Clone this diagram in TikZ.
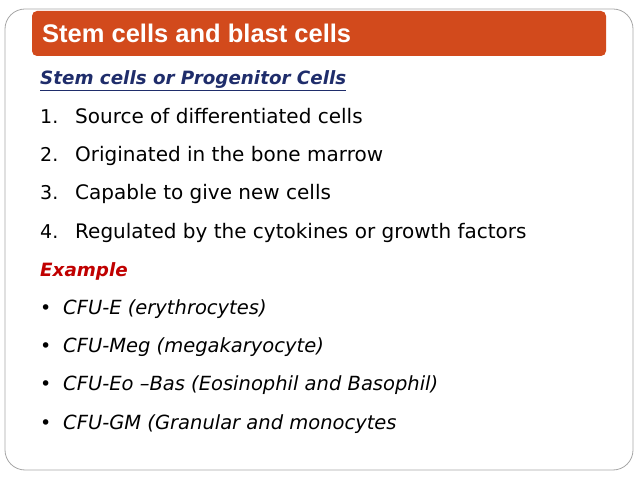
\documentclass[tikz,border=0pt]{standalone}
\usepackage{fontspec}
\setmainfont{DejaVu Sans}
\newfontfamily\titlefont{Liberation Sans}
\definecolor{ttl}{HTML}{D24A1C}
\definecolor{hd}{HTML}{1F2D6B}
\definecolor{ex}{HTML}{C00000}
\begin{document}
\begin{tikzpicture}[x=1pt,y=-1pt,
  txt/.style={anchor=base west,inner sep=0pt,font=\fontsize{20}{24}\selectfont},
  num/.style={anchor=base west,inner sep=0pt,font=\fontsize{19}{24}\selectfont}]
\useasboundingbox (0,0) rectangle (638,478);
\draw[gray!70,line width=0.8pt,rounded corners=20pt] (5,9) rectangle (633,470);
\fill[ttl,rounded corners=5pt] (32,11) rectangle (606,56);
\node[anchor=base west,inner sep=0pt,text=white,font=\titlefont\bfseries\fontsize{25.5}{30}\selectfont] (title) at (42,43) {Stem cells and blast cells};
\node[txt,text=hd,font=\fontsize{18.3}{22}\selectfont\bfseries\itshape] (head) at (40,85) {\underline{Stem cells or Progenitor Cells}};
\foreach \n/\t/\y in {1/Source of differentiated cells/124,2/Originated in the bone marrow/162,3/Capable to give new cells/200,4/Regulated by the cytokines or growth factors/239}{
  \node[num] (n\n) at (40,\y) {\n.};
  \node[txt] (t\n) at (75,\y) {\t};
}
\node[txt,text=ex,font=\fontsize{18.3}{22}\selectfont\bfseries\itshape] (exa) at (40,277) {Example};
\foreach \i/\t/\y in {1/CFU-E (erythrocytes)/315,2/CFU-Meg (megakaryocyte)/353,3/CFU-Eo –Bas (Eosinophil and Basophil)/391,4/CFU-GM (Granular and monocytes/430}{
  \node[num] (b\i) at (40,\y) {•};
  \node[txt,font=\fontsize{19.5}{24}\selectfont\itshape] (c\i) at (63,\y) {\t};
}
\end{tikzpicture}
\end{document}
